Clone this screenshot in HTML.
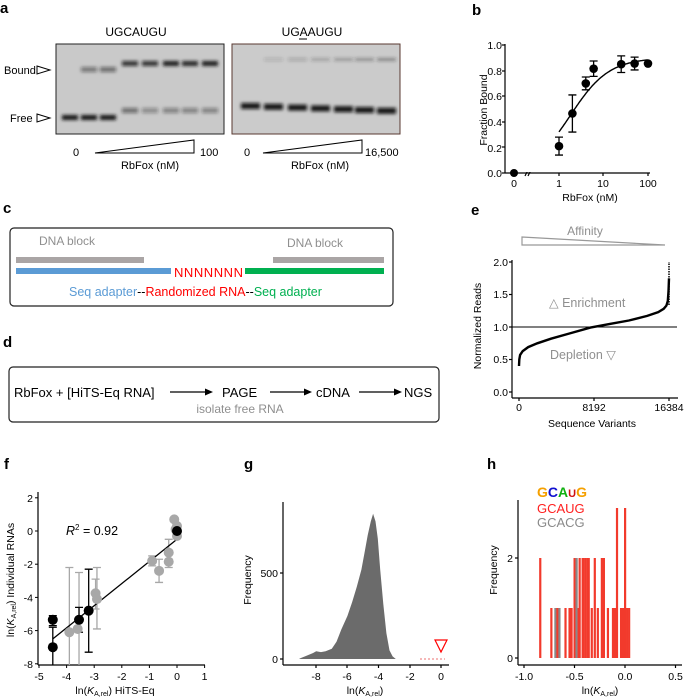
<!DOCTYPE html>
<html><head><meta charset="utf-8"><style>
html,body{margin:0;padding:0;background:#fff;}
svg{display:block;font-family:"Liberation Sans",Arial,sans-serif;}
</style></head><body>
<svg id="s" width="685" height="699" viewBox="0 0 685 699" xmlns="http://www.w3.org/2000/svg">
<defs>
<filter id="bl" x="-20%" y="-50%" width="140%" height="200%"><feGaussianBlur stdDeviation="1.6"/></filter>
</defs>
<g font-weight="bold" font-size="15">
<text x="0" y="13">a</text><text x="472" y="15">b</text><text x="3" y="213">c</text>
<text x="3" y="347">d</text><text x="471" y="215">e</text><text x="4" y="469">f</text>
<text x="244" y="469">g</text><text x="487" y="469">h</text>
</g>
<!-- panel a -->
<text x="136" y="36" font-size="12" text-anchor="middle">UGCAUGU</text>
<text x="312" y="36" font-size="12" text-anchor="middle">UGAAUGU</text>
<line x1="299" y1="39" x2="307" y2="39" stroke="#000" stroke-width="1"/>
<rect x="56" y="44" width="168" height="90" fill="#c9c9c9" stroke="#222" stroke-width="1"/>
<rect x="232" y="44" width="168" height="90" fill="#cbcbcb" stroke="#5a3a30" stroke-width="1"/>
<g id="bands" filter="url(#bl)"></g>
<text x="4" y="74" font-size="11">Bound</text>
<polygon points="37,66 50,70 37,74" fill="#fff" stroke="#000"/>
<text x="10" y="122" font-size="11">Free</text>
<polygon points="37,114 50,118 37,122" fill="#fff" stroke="#000"/>
<text x="76" y="156" font-size="11" text-anchor="middle">0</text>
<polygon points="95,153 194,140 194,153" fill="#fff" stroke="#000"/>
<text x="200" y="156" font-size="11">100</text>
<text x="150" y="169" font-size="11" text-anchor="middle">RbFox (nM)</text>
<text x="247" y="156" font-size="11" text-anchor="middle">0</text>
<polygon points="263,153 362,140 362,153" fill="#fff" stroke="#000"/>
<text x="365" y="156" font-size="11">16,500</text>
<text x="320" y="169" font-size="11" text-anchor="middle">RbFox (nM)</text>
<!-- panel b -->
<g font-size="10.5" text-anchor="end">
<text x="502" y="49">1.0</text><text x="502" y="75">0.8</text><text x="502" y="100">0.6</text>
<text x="502" y="126">0.4</text><text x="502" y="152">0.2</text><text x="502" y="177">0.0</text>
</g>
<g stroke="#000" stroke-width="1.2" fill="none">
<line x1="505" y1="44" x2="505" y2="173"/>
<line x1="505" y1="45" x2="502" y2="45"/><line x1="505" y1="71" x2="502" y2="71"/><line x1="505" y1="96" x2="502" y2="96"/>
<line x1="505" y1="122" x2="502" y2="122"/><line x1="505" y1="147" x2="502" y2="147"/><line x1="505" y1="173" x2="502" y2="173"/>
<line x1="505" y1="173" x2="650" y2="173"/>
<line x1="525" y1="176" x2="528" y2="170"/><line x1="528" y1="176" x2="531" y2="170"/>
<line x1="559" y1="173" x2="559" y2="176"/><line x1="603" y1="173" x2="603" y2="176"/><line x1="648" y1="173" x2="648" y2="176"/>
</g>
<rect x="524" y="169" width="8" height="3" fill="#fff"/>
<g font-size="10.5" text-anchor="middle">
<text x="514" y="187">0</text><text x="559" y="187">1</text><text x="603" y="187">10</text><text x="648" y="187">100</text>
<text x="590" y="201">RbFox (nM)</text>
</g>
<text transform="translate(487,110) rotate(-90)" font-size="10.5" text-anchor="middle">Fraction Bound</text>
<g id="bplot"></g>
<!-- panel c -->
<rect x="10" y="228" width="383" height="78" rx="4" fill="#fff" stroke="#222" stroke-width="1.2"/>
<text x="39" y="245" font-size="12" fill="#8f8f8f">DNA block</text>
<text x="287" y="247" font-size="12" fill="#8f8f8f">DNA block</text>
<rect x="16" y="257" width="128" height="6" fill="#aaa5a5"/>
<rect x="273" y="257" width="111" height="6" fill="#aaa5a5"/>
<rect x="16" y="268" width="155" height="6" fill="#5b9bd5"/>
<rect x="245" y="268" width="139" height="6" fill="#00b050"/>
<text x="174" y="277" font-size="13" fill="#ff0000" textLength="69">NNNNNNN</text>
<text x="69" y="296" font-size="12.5"><tspan fill="#5b9bd5">Seq adapter</tspan><tspan fill="#000">--</tspan><tspan fill="#ff0000">Randomized RNA</tspan><tspan fill="#000">--</tspan><tspan fill="#00b050">Seq adapter</tspan></text>
<!-- panel d -->
<rect x="9" y="367" width="430" height="55" rx="4" fill="#fff" stroke="#222" stroke-width="1.2"/>
<g font-size="13">
<text x="14" y="397">RbFox + [HiTS-Eq RNA]</text>
<text x="222" y="397">PAGE</text><text x="316" y="397">cDNA</text><text x="404" y="397">NGS</text>
</g>
<g stroke="#000" stroke-width="1.2">
<line x1="170" y1="392" x2="207" y2="392"/><line x1="270" y1="392" x2="305" y2="392"/><line x1="359" y1="392" x2="395" y2="392"/>
</g>
<g fill="#000"><polygon points="213,392 205,388.5 205,395.5"/><polygon points="312,392 304,388.5 304,395.5"/><polygon points="402,392 394,388.5 394,395.5"/></g>
<text x="240" y="413" font-size="12" fill="#8f8f8f" text-anchor="middle">isolate free RNA</text>
<!-- panel e -->
<text x="585" y="235" font-size="12" fill="#8f8f8f" text-anchor="middle">Affinity</text>
<polygon points="522,237 665,245 522,245" fill="#fff" stroke="#999" stroke-width="1.2"/>
<g stroke="#000" stroke-width="1.2">
<line x1="512" y1="260" x2="512" y2="398"/><line x1="512" y1="398" x2="678" y2="398"/>
<line x1="512" y1="262" x2="509" y2="262"/><line x1="512" y1="294.5" x2="509" y2="294.5"/><line x1="512" y1="327" x2="509" y2="327"/>
<line x1="512" y1="359.5" x2="509" y2="359.5"/><line x1="512" y1="392" x2="509" y2="392"/>
<line x1="519" y1="398" x2="519" y2="401"/><line x1="594" y1="398" x2="594" y2="401"/><line x1="669" y1="398" x2="669" y2="401"/>
<line x1="512" y1="327" x2="677" y2="327" stroke-width="1"/>
</g>
<g font-size="10.5" text-anchor="end">
<text x="508" y="266">2.0</text><text x="508" y="298">1.5</text><text x="508" y="331">1.0</text><text x="508" y="363">0.5</text><text x="508" y="396">0.0</text>
</g>
<g font-size="10.5" text-anchor="middle">
<text x="519" y="411">0</text><text x="594" y="411">8192</text><text x="669" y="411">16384</text>
<text x="592" y="427">Sequence Variants</text>
</g>
<text transform="translate(481,326) rotate(-90)" font-size="10.5" text-anchor="middle">Normalized Reads</text>
<text x="549" y="307" font-size="12.5" fill="#8f8f8f">△ Enrichment</text>
<text x="550" y="359" font-size="12.5" fill="#8f8f8f">Depletion ▽</text>
<path id="ecurve" fill="none" stroke="#000" stroke-width="2.4"/>
<line x1="669" y1="305" x2="669" y2="262" stroke="#000" stroke-width="1.5" stroke-dasharray="1.5,1"/>
<!-- panel f -->
<g stroke="#000" stroke-width="1.2">
<line x1="38" y1="492" x2="38" y2="665"/><line x1="38" y1="665" x2="205" y2="665"/>
</g>
<g id="fticks"></g>
<text x="66" y="535" font-size="12.5"><tspan font-style="italic">R</tspan><tspan font-size="8" dy="-5">2</tspan><tspan dy="5"> = 0.92</tspan></text>
<text x="115" y="694" font-size="10.5" text-anchor="middle">ln(<tspan font-style="italic">K</tspan><tspan font-size="7" dy="2">A,rel</tspan><tspan dy="-2">) HiTS-Eq</tspan></text>
<text transform="translate(14,580) rotate(-90)" font-size="10.5" text-anchor="middle">ln(<tspan font-style="italic">K</tspan><tspan font-size="7" dy="2">A,rel</tspan><tspan dy="-2">) Individual RNAs</tspan></text>
<g id="fplot"></g>
<!-- panel g -->
<polygon id="hist" fill="#6b6b6b"/>
<g stroke="#000" stroke-width="1.2">
<line x1="283" y1="502" x2="283" y2="665"/><line x1="283" y1="665" x2="449" y2="665"/>
<line x1="283" y1="659" x2="280" y2="659"/><line x1="283" y1="573" x2="280" y2="573"/>
<line x1="316" y1="665" x2="316" y2="668"/><line x1="347" y1="665" x2="347" y2="668"/><line x1="378.5" y1="665" x2="378.5" y2="668"/>
<line x1="410" y1="665" x2="410" y2="668"/><line x1="441" y1="665" x2="441" y2="668"/>
</g>
<line x1="420" y1="659" x2="445" y2="659" stroke="#f4a0a0" stroke-width="1.5" stroke-dasharray="2,2"/>
<polygon points="435,640 447,640 441,652" fill="#fff" stroke="#ff0000" stroke-width="1.2"/>
<g font-size="10.5" text-anchor="end"><text x="278" y="663">0</text><text x="278" y="577">500</text></g>
<g font-size="10.5" text-anchor="middle">
<text x="316" y="680">-8</text><text x="347" y="680">-6</text><text x="378.5" y="680">-4</text><text x="410" y="680">-2</text><text x="441" y="680">0</text>
<text x="365" y="694">ln(<tspan font-style="italic">K</tspan><tspan font-size="7" dy="2">A,rel</tspan><tspan dy="-2">)</tspan></text>
</g>
<text transform="translate(251,580) rotate(-90)" font-size="10.5" text-anchor="middle">Frequency</text>
<!-- panel h -->
<g id="hbars"></g>
<g stroke="#000" stroke-width="1.2">
<line x1="518" y1="500" x2="518" y2="665"/><line x1="518" y1="665" x2="682" y2="665"/>
<line x1="518" y1="658" x2="515" y2="658"/><line x1="518" y1="558" x2="515" y2="558"/>
<line x1="524" y1="665" x2="524" y2="668"/><line x1="574.5" y1="665" x2="574.5" y2="668"/><line x1="625" y1="665" x2="625" y2="668"/><line x1="675.5" y1="665" x2="675.5" y2="668"/>
</g>
<g font-size="10.5" text-anchor="end"><text x="513" y="662">0</text><text x="513" y="562">2</text></g>
<g font-size="10.5" text-anchor="middle">
<text x="524" y="680">-1.0</text><text x="574.5" y="680">-0.5</text><text x="625" y="680">0.0</text><text x="675.5" y="680">0.5</text>
<text x="600" y="694">ln(<tspan font-style="italic">K</tspan><tspan font-size="7" dy="2">A,rel</tspan><tspan dy="-2">)</tspan></text>
</g>
<text transform="translate(497,570) rotate(-90)" font-size="10.5" text-anchor="middle">Frequency</text>
<text x="537" y="497" font-size="14" font-weight="bold"><tspan fill="#f5a000">G</tspan><tspan fill="#1010d0">C</tspan><tspan fill="#10b010">A</tspan><tspan fill="#d01010" font-size="11">U</tspan><tspan fill="#f5a000">G</tspan></text>
<text x="537" y="513" font-size="13" fill="#ff2020">GCAUG</text>
<text x="537" y="527" font-size="13" fill="#8a8a8a">GCACG</text>
</svg>
<script>
var NS="http://www.w3.org/2000/svg";
function el(p,t,a){var e=document.createElementNS(NS,t);for(var k in a)e.setAttribute(k,a[k]);document.getElementById(p).appendChild(e);return e;}
var g1=[70,89,108,130,150,171,190,210];
var bI=[0,0.45,0.5,0.8,0.8,0.95,0.9,0.95];
var fI=[1,1,1,0.5,0.35,0.4,0.4,0.4];
g1.forEach(function(x,i){
 if(bI[i]>0)el("bands","rect",{x:x-8,y:i<3?67:61,width:16,height:5,fill:"rgba(20,20,20,"+bI[i]+")"});
 el("bands","rect",{x:x-8,y:i<3?115:108,width:16,height:5,fill:"rgba(20,20,20,"+fI[i]+")"});
});
[250,273,297,320,343,364,386].forEach(function(x,i){
 el("bands","rect",{x:x-9,y:103+i*0.8,width:19,height:6,fill:"rgba(10,10,10,0.95)"});
 if(i>0)el("bands","rect",{x:x-9,y:58,width:19,height:3,fill:"rgba(40,40,40,"+(0.12+i*0.05)+")"});
});
function bx(c){return 559+Math.log10(c)*44.5;} function by(v){return 173-v*128;}
var d="";for(var c=1;c<=100.01;c*=1.05){d+=(d?"L":"M")+bx(c).toFixed(1)+","+by(0.9*c/(c+1.8)).toFixed(1);}
el("bplot","path",{d:d,fill:"none",stroke:"#000","stroke-width":1.4});
[[1,0.21,0.07],[2,0.465,0.145],[4,0.70,0.05],[6,0.815,0.06],[25,0.85,0.065],[50,0.855,0.05],[100,0.855,0]].forEach(function(p){
 var x=bx(p[0]),y=by(p[1]);
 if(p[2]){var y1=by(p[1]+p[2]),y2=by(p[1]-p[2]);
 el("bplot","path",{d:"M"+x+","+y1+"V"+y2+"M"+(x-4)+","+y1+"H"+(x+4)+"M"+(x-4)+","+y2+"H"+(x+4),stroke:"#000","stroke-width":1.3,fill:"none"});}
 el("bplot","circle",{cx:x,cy:y,r:4.3,fill:"#000"});
});
el("bplot","circle",{cx:514,cy:173,r:4,fill:"#000"});
var pts=[[0,0.4],[30,0.5],[120,0.57],[400,0.63],[1000,0.69],[2000,0.75],[3500,0.82],[5500,0.9],[7800,0.99],[10000,1.05],[12000,1.1],[14000,1.17],[15200,1.23],[15800,1.28],[16100,1.33],[16250,1.4],[16330,1.55],[16384,1.75]];
var e="";pts.forEach(function(p){e+=(e?"L":"M")+(519+p[0]/16384*150).toFixed(1)+","+(392-p[1]*65).toFixed(1);});
document.getElementById("ecurve").setAttribute("d",e);
function fx(v){return 177+v*27.6;} function fy(v){return 531-v*16.6;}
for(var v=-5;v<=1;v++){el("fticks","line",{x1:fx(v),y1:665,x2:fx(v),y2:668,stroke:"#000"});var t=el("fticks","text",{x:fx(v),y:680,"font-size":"10.5","text-anchor":"middle"});t.textContent=v;}
for(var v=-8;v<=2;v+=2){el("fticks","line",{x1:35,y1:fy(v),x2:38,y2:fy(v),stroke:"#000"});var t=el("fticks","text",{x:33,y:fy(v)+4,"font-size":"10.5","text-anchor":"end"});t.textContent=v;}
function eb(c,x,y1,y2){var X=fx(x),Y1=fy(y1),Y2=Math.min(fy(y2),665);el("fplot","path",{d:"M"+X+","+Y1+"V"+Y2+"M"+(X-4)+","+Y1+"H"+(X+4)+(fy(y2)<665?"M"+(X-4)+","+Y2+"H"+(X+4):""),stroke:c,"stroke-width":1.3,fill:"none"});}
var gr="#a8a8a8";
eb(gr,-3.9,-2.2,-8.5);eb(gr,-3.55,-2.5,-8.5);eb(gr,-2.9,-2.2,-5.9);eb(gr,-2.95,-2.9,-4.7);eb(gr,-0.65,-1.7,-3.1);eb(gr,-0.3,-0.5,-2.2);eb(gr,-0.9,-1.5,-2.1);
eb("#000",-4.5,-5.1,-5.7);eb("#000",-4.5,-5.8,-8.5);eb("#000",-3.55,-4.6,-6.1);eb("#000",-3.2,-2.3,-7.3);
el("fplot","line",{x1:fx(-4.5),y1:fy(-6.5),x2:fx(0),y2:fy(-0.5),stroke:"#000","stroke-width":1.3});
[[-3.9,-6.1],[-3.6,-5.9],[-2.95,-3.75],[-2.9,-4.1],[-0.9,-1.8],[-0.65,-2.4],[-0.3,-1.3],[-0.3,-1.85],[-0.1,0.7],[0,0.3],[0,-0.3],[-0.05,0.1]].forEach(function(p){el("fplot","circle",{cx:fx(p[0]),cy:fy(p[1]),r:5,fill:gr});});
[[-4.5,-5.35],[-4.5,-7],[-3.55,-5.35],[-3.2,-4.8],[0,0]].forEach(function(p){el("fplot","circle",{cx:fx(p[0]),cy:fy(p[1]),r:5,fill:"#000"});});
var hp=[[-9.1,0],[-9,5],[-8.6,20],[-8.2,35],[-8,45],[-7.7,40],[-7.4,45],[-7,60],[-6.7,100],[-6.4,170],[-6,250],[-5.7,330],[-5.4,420],[-5.1,520],[-4.9,620],[-4.7,720],[-4.5,800],[-4.35,845],[-4.2,800],[-4.05,700],[-3.9,520],[-3.7,320],[-3.5,150],[-3.3,50],[-3.1,15],[-2.9,0]];
var s="";hp.forEach(function(p){s+=(441+p[0]*15.6).toFixed(1)+","+(659-p[1]*0.172).toFixed(1)+" ";});
s+=(441-2.9*15.6)+",659 "+(441-9.1*15.6)+",659";
document.getElementById("hist").setAttribute("points",s);
function hx(v){return 625+v*101;}
var R="#f23a2c",G="#888";
[[-0.84,2,R],[-0.73,1,R],[-0.69,1,G],[-0.67,1,R],[-0.65,1,G],[-0.59,1,R],[-0.55,1,R],[-0.53,1,R],[-0.5,2,R],[-0.48,2,G],[-0.46,1,R],[-0.45,2,R],[-0.42,2,R],[-0.41,2,R],[-0.39,2,R],[-0.37,2,R],[-0.36,2,R],[-0.33,1,R],[-0.3,2,R],[-0.27,1,R],[-0.23,2,R],[-0.21,2,R],[-0.17,1,R],[-0.12,1,R],[-0.1,1,R],[-0.08,3,R],[-0.04,1,R],[-0.02,1,R],[0,3,R],[0.02,1,R],[0.04,1,R]].forEach(function(b){
 el("hbars","rect",{x:hx(b[0])-1,y:658-b[1]*50,width:2.2,height:b[1]*50,fill:b[2]});
});
</script>
</body></html>
